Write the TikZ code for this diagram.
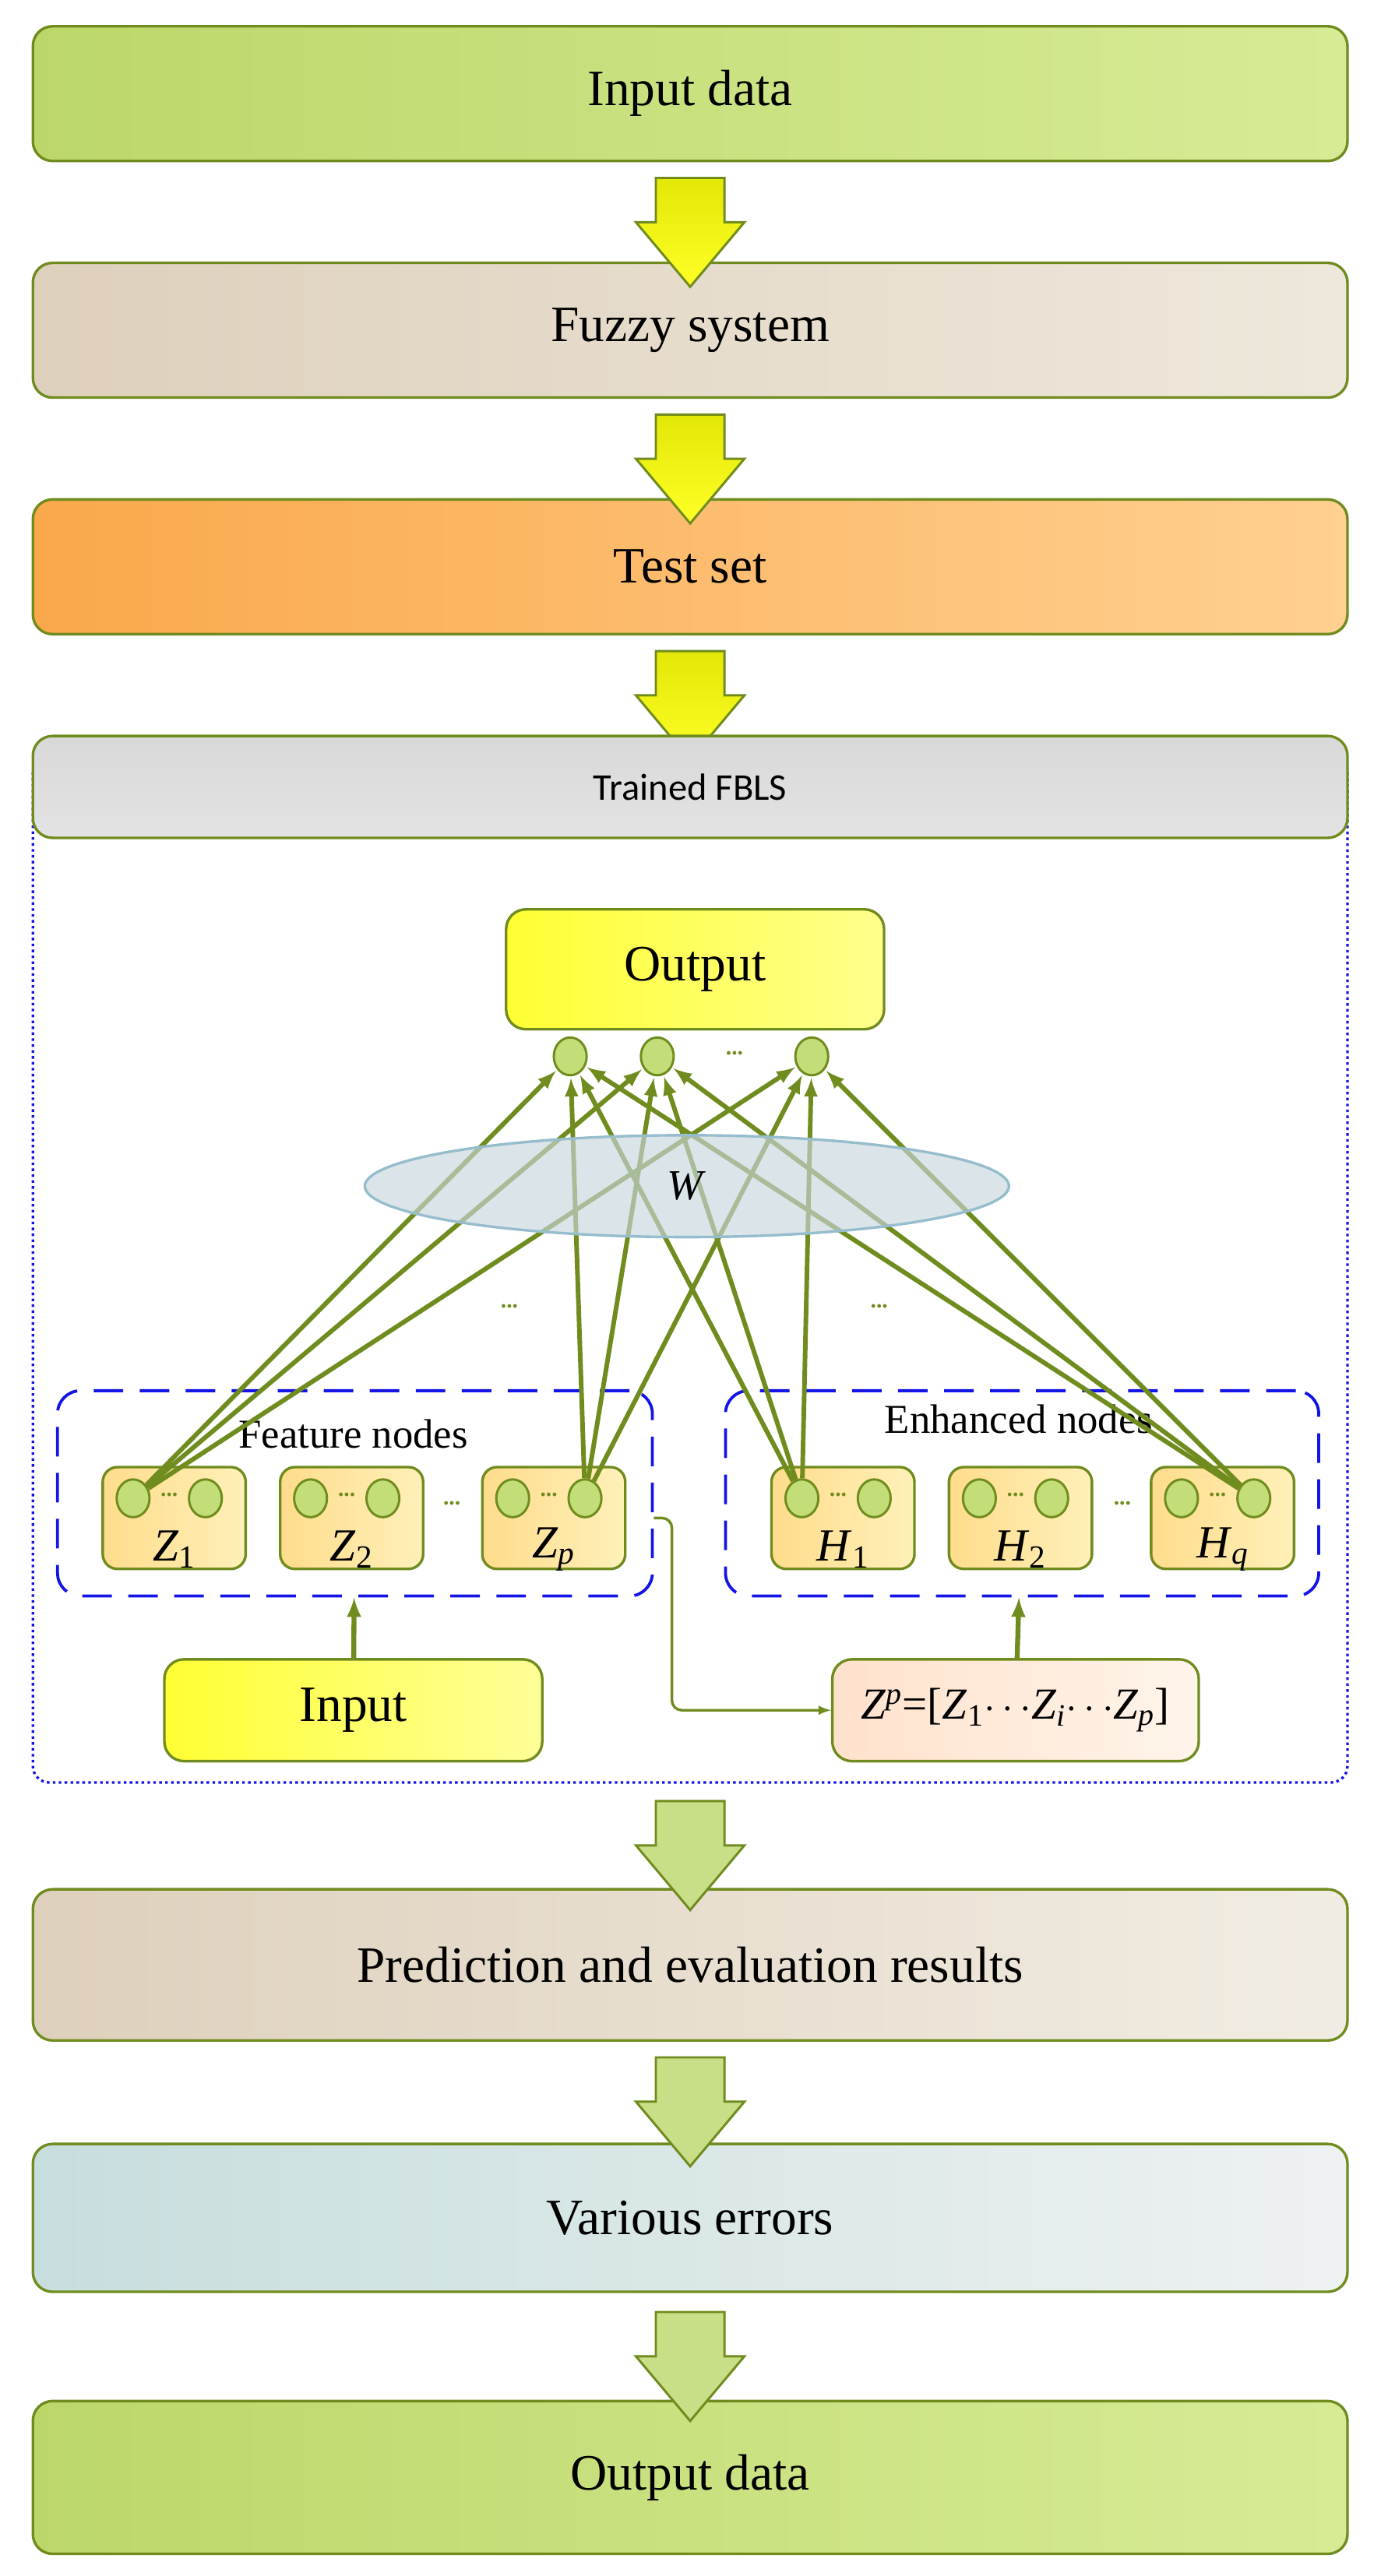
\documentclass[tikz,border=0pt]{standalone}
\usepackage{fontspec}
\setmainfont{Liberation Serif}
\newfontfamily\sansf{Carlito}
\usetikzlibrary{arrows,shapes,calc}
\definecolor{olive}{RGB}{112,140,30}
\definecolor{dblue}{RGB}{20,20,230}
\definecolor{grnA}{RGB}{188,215,105}
\definecolor{grnB}{RGB}{215,235,150}
\definecolor{begA}{RGB}{222,208,188}
\definecolor{begB}{RGB}{238,232,220}
\definecolor{orgA}{RGB}{250,168,75}
\definecolor{orgB}{RGB}{255,208,145}
\definecolor{celA}{RGB}{255,220,140}
\definecolor{celB}{RGB}{255,240,185}
\definecolor{unitC}{RGB}{195,222,120}
\tikzstyle{stage}=[rounded corners=12pt, draw=olive, line width=1.6pt, minimum width=800pt, minimum height=82pt, font=\fontsize{31}{31}\selectfont]
\tikzstyle{flowA}=[single arrow, draw=olive, line width=1.4pt, shape border rotate=270, minimum height=64pt, minimum width=66pt, single arrow head extend=12pt, inner xsep=20pt, inner ysep=20pt, single arrow tip angle=80]
\tikzstyle{edge}=[-latex, draw=olive, line width=2.8pt, shorten >=1pt]
\tikzstyle{cell}=[rounded corners=9pt, draw=olive, line width=1.6pt, left color=celA, right color=celB, minimum width=87pt, minimum height=62pt]
\tikzstyle{unit}=[ellipse, draw=olive, line width=1.4pt, fill=unitC, minimum width=20pt, minimum height=23pt, inner sep=0pt]
\tikzstyle{group}=[draw=dblue, dash pattern=on 18pt off 10pt, line width=1.8pt, rounded corners=14pt]
\tikzstyle{dots}=[text=olive, font=\bfseries\fontsize{14}{14}\selectfont]
\newcommand{\lbl}[2]{\textit{#1}\textsubscript{#2}}
\begin{document}
\begin{tikzpicture}[x=1pt, y=-1pt]
  \useasboundingbox (0,0) rectangle (840,1568);
  %%%%%%%%%%%% upper stages
  \node(in) [stage, left color=grnA, right color=grnB] at (420,57){Input data};
  \node(fz) [stage, left color=begA, right color=begB] at (420,201){Fuzzy system};
  \node(ts) [stage, left color=orgA, right color=orgB] at (420,345){Test set};
  \node(a1) [flowA, top color=yellow!80!olive, bottom color=yellow!85] at (420,129){};
  \node(a2) [flowA, top color=yellow!80!olive, bottom color=yellow!85] at (420,273){};
  \node(a3) [flowA, top color=yellow!80!olive, bottom color=yellow!85] at (420,417){};
  %%%%%%%%%%%% trained FBLS
  \draw[dblue, line width=1.6pt, dotted, rounded corners=10pt] (20,460) rectangle (820,1085);
  \node(fb) [stage, minimum height=62pt, top color=gray!30, bottom color=gray!22, font=\sansf\fontsize{23}{23}\selectfont] at (420,479){Trained FBLS};
  \node(out) [rounded corners=12pt, draw=olive, line width=1.6pt, left color=yellow!80, right color=yellow!45, minimum width=230pt, minimum height=73pt, font=\fontsize{31}{31}\selectfont] at (423,590){Output};
  \node(o1) [unit] at (347,643){};
  \node(o2) [unit] at (400,643){};
  \node(o3) [unit] at (494,643){};
  \node[dots] at (447,641){...};
  \node[group, minimum width=362pt, minimum height=125pt] (fg) at (216,909){};
  \node[group, minimum width=361pt, minimum height=125pt] (eg) at (622,909){};
  \node at (215,873)[font=\fontsize{25}{25}\selectfont]{Feature nodes};
  \node at (620,864)[font=\fontsize{25}{25}\selectfont]{Enhanced nodes};
  \foreach \nm/\x/\a/\b in {z1/106/Z/1, z2/214/Z/2, zp/337/Z/\textit{p}, h1/513/H/1, h2/621/H/2, hq/744/H/\textit{q}}{
    \node(\nm) [cell] at (\x,924){};
    \node(\nm l) [unit] at (\x-25,912){};
    \node(\nm r) [unit] at (\x+19,912){};
    \node[dots] at (\x-3,910){...};
    \node at (\x,943)[font=\fontsize{28}{28}\selectfont]{\lbl{\a}{\b}};
  }
  \node[dots] at (275,915){...};
  \node[dots] at (683,915){...};
  \node[dots] at (310,795){...};
  \node[dots] at (535,795){...};
  \foreach \s in {z1l, zpr, h1l, hqr}{
    \foreach \t in {o1, o2, o3}{
      \draw[edge] (\s) to (\t);
    }
  }
  \node(W) [ellipse, draw=cyan!40!gray!70, line width=1.6pt, fill=cyan!25!gray!40, fill opacity=0.65, minimum width=392pt, minimum height=62pt] at (418,722){};
  \node at (418,722)[font=\fontsize{26}{26}\selectfont]{\textit{W}};
  \node(inp) [rounded corners=12pt, draw=olive, line width=1.6pt, left color=yellow!80, right color=yellow!40, minimum width=230pt, minimum height=62pt, font=\fontsize{31}{31}\selectfont] at (215,1041){Input};
  \node(zf) [rounded corners=12pt, draw=olive, line width=1.6pt, left color=red!15!orange!20, right color=red!5!orange!8, minimum width=223pt, minimum height=62pt, font=\fontsize{27}{27}\selectfont] at (618,1041){\textit{Z}\textsuperscript{\textit{p}}=[\lbl{Z}{1}$\cdots$\lbl{Z}{\textit{i}}$\cdots$\lbl{Z}{\textit{p}}]};
  \draw[-latex, olive, line width=3pt] (inp) to (fg);
  \draw[-latex, olive, line width=3pt] (zf) to (eg);
  \coordinate (tap) at (fg.east |- zp);
  \draw[-latex, olive, line width=1.6pt, rounded corners=6pt] (tap) -- ++(11,0) |- (zf.west);
  %%%%%%%%%%%% lower stages
  \node(pr) [stage, minimum height=92pt, left color=begA, right color=begB!80!white] at (420,1196){Prediction and evaluation results};
  \node(ve) [stage, minimum height=90pt, left color=cyan!25!gray!35, right color=cyan!10!gray!12] at (420,1350){Various errors};
  \node(od) [stage, minimum height=93pt, left color=grnA, right color=grnB] at (420,1508){Output data};
  \node(a4) [flowA, fill=grnA!80!white] at (420,1117){};
  \node(a5) [flowA, fill=grnA!80!white] at (420,1273){};
  \node(a6) [flowA, fill=grnA!80!white] at (420,1428){};
\end{tikzpicture}
\end{document}
